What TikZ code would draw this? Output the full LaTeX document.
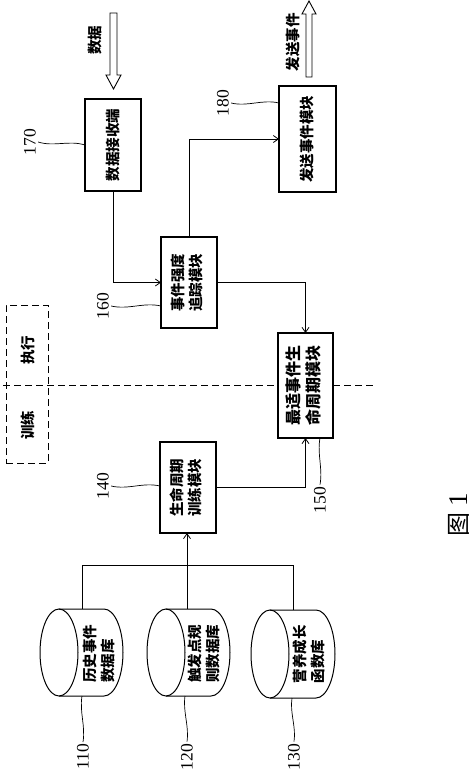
\documentclass[tikz,border=0pt]{standalone}
\usepackage{fontspec}
\setmainfont{Liberation Serif}
\newfontfamily\cjk{Noto Sans CJK SC}
\usepackage{graphicx}
\usetikzlibrary{arrows.meta,calc}
\newcommand{\vtext}[1]{\rotatebox{90}{#1}}
\newcommand{\vlines}[2]{\rotatebox{90}{\begin{tabular}{@{}#1@{}}#2\end{tabular}}}
\newcommand{\squigh}[2]{\draw[squig] (#1) .. controls ($(#1)!0.35!(#2)+(0,4)$) and ($(#1)!0.65!(#2)+(0,-4)$) .. (#2);}
\newcommand{\squigv}[2]{\draw[squig] (#1) .. controls ($(#1)!0.35!(#2)+(-3,0)$) and ($(#1)!0.65!(#2)+(3,0)$) .. (#2);}
\begin{document}
\begin{tikzpicture}[x=1pt,y=-1pt,
 module/.style={draw, line width=1.1pt, fill=white, inner sep=0pt, outer sep=0pt, font=\cjk\bfseries\fontsize{14.5}{17}\selectfont},
 conn/.style={line width=0.8pt},
 arr/.style={conn, -{Straight Barb[length=5pt,width=7pt]}},
 refnum/.style={inner sep=2pt, font=\fontsize{17.5}{17.5}\selectfont},
 squig/.style={line width=0.7pt},
 cjktext/.style={inner sep=0pt, font=\cjk\bfseries\fontsize{14.5}{17}\selectfont},
 cylline/.style={line width=1pt},
 phase/.style={draw, dash pattern=on 7pt off 4pt, line width=0.9pt},
 blockarrow/.style={draw, line width=0.9pt, fill=white, line join=miter}
]
\useasboundingbox (0,0) rectangle (474,772);
\fill[white] (0,0) rectangle (474,772);

% phase separator and frame
\coordinate (sepL) at (3,385);
\coordinate (sepR) at (375,385);
\draw[phase] (sepL) -- (sepR);
\node[phase, minimum width=42pt, minimum height=158pt, inner sep=0pt] (phasebox) at (27,384) {};
\node[cjktext] (exec) at (28,350) {\vtext{执行}};
\node[cjktext] (train) at (28,425) {\vtext{训练}};

% modules
\node[module, minimum width=56pt, minimum height=92pt] (b170) at (113,145) {\vtext{数据接收端}};
\node[module, minimum width=57pt, minimum height=106pt] (b180) at (307.5,139) {\vtext{发送事件模块}};
\node[module, minimum width=56pt, minimum height=91pt] (b160) at (189,282.5) {\vlines{c}{事件强度\\追踪模块}};
\node[module, minimum width=55pt, minimum height=105pt, font=\cjk\bfseries\fontsize{16}{18}\selectfont] (b150) at (305.5,385.5) {\vlines{c}{最适事件生\\命周期模块}};
\node[module, minimum width=56pt, minimum height=91pt] (b140) at (188,487.5) {\vlines{c}{生命周期\\训练模块}};

% connectors between modules
\draw[arr] (b170.south) |- (b160.west);
\draw[arr] (b160.north) |- (b180.west);
\draw[arr] (b160.east) -| (b150.north);
\draw[arr] (b140.east) -| (b150.south);

% databases
\draw[cylline] (59,652.5) ellipse [x radius=19pt, y radius=43.5pt];
\draw[cylline] (59,609) -- (104,609) arc[start angle=90, end angle=-90, x radius=19pt, y radius=43.5pt] -- (59,696);
\draw[cylline] (166,652.5) ellipse [x radius=19pt, y radius=43.5pt];
\draw[cylline] (166,609) -- (211,609) arc[start angle=90, end angle=-90, x radius=19pt, y radius=43.5pt] -- (166,696);
\draw[cylline] (270,654) ellipse [x radius=19pt, y radius=44pt];
\draw[cylline] (270,610) -- (316,610) arc[start angle=90, end angle=-90, x radius=19pt, y radius=44pt] -- (270,698);
\node[cjktext] (t110) at (101,653.5) {\vlines{l}{历史事件\\数据库}};
\node[cjktext] (t120) at (206,653.5) {\vlines{l}{触发点规\\则数据库}};
\node[cjktext] (t130) at (311,654) {\vlines{l}{营养成长\\函数库}};

\coordinate (c110t) at (82,609); \coordinate (c110b) at (82,696);
\coordinate (c120t) at (187,609); \coordinate (c120b) at (185,696);
\coordinate (c130t) at (293,610); \coordinate (c130b) at (292,698);
\coordinate (busL) at (82,565); \coordinate (busR) at (293,565);
\draw[conn] (c110t) -- (busL) -- (busR) -- (c130t);
\draw[arr] (c120t) -- (c120t |- b140.south);

% reference numerals
\node[refnum] (l170) at (30,142) {\vtext{170}};
\node[refnum] (l180) at (223,103) {\vtext{180}};
\node[refnum] (l160) at (103,306) {\vtext{160}};
\node[refnum] (l140) at (103,486) {\vtext{140}};
\node[refnum] (l150) at (320,500) {\vtext{150}};
\node[refnum] (l110) at (83,757) {\vtext{110}};
\node[refnum] (l120) at (187,757) {\vtext{120}};
\node[refnum] (l130) at (294,757) {\vtext{130}};

\coordinate (s170) at (b170.west |- 0,145);
\coordinate (s180) at (b180.west |- l180.east);
\coordinate (s160) at (b160.west |- l160.east);
\coordinate (s140) at (b140.west |- l140.east);
\coordinate (s150) at (b150.south -| l150.north);
\squigh{l170.east}{s170}
\squigh{l180.east}{s180}
\squigh{l160.east}{s160}
\squigh{l140.east}{s140}
\squigv{s150}{l150.north}
\squigv{c110b}{l110.north}
\squigv{c120b}{l120.north}
\squigv{c130b}{l130.north}

% data in / events out
\draw[blockarrow] (110,13) -- (117,13) -- (117,75) -- (121,75) -- (113.5,89) -- (106,75) -- (110,75) -- cycle;
\node[cjktext] (datalbl) at (95,40) {\vtext{数据}};
\draw[blockarrow] (306,77) -- (312,77) -- (312,14) -- (316,14) -- (309,1) -- (302,14) -- (306,14) -- cycle;
\node[cjktext] (sendlbl) at (293,42) {\vtext{发送事件}};

% figure caption
\node[inner sep=0pt] (figlbl) at (459,515) {\vtext{{\cjk\fontsize{24}{24}\selectfont 图}\hspace{6pt}{\fontsize{27}{27}\selectfont 1}}};
\end{tikzpicture}
\end{document}
